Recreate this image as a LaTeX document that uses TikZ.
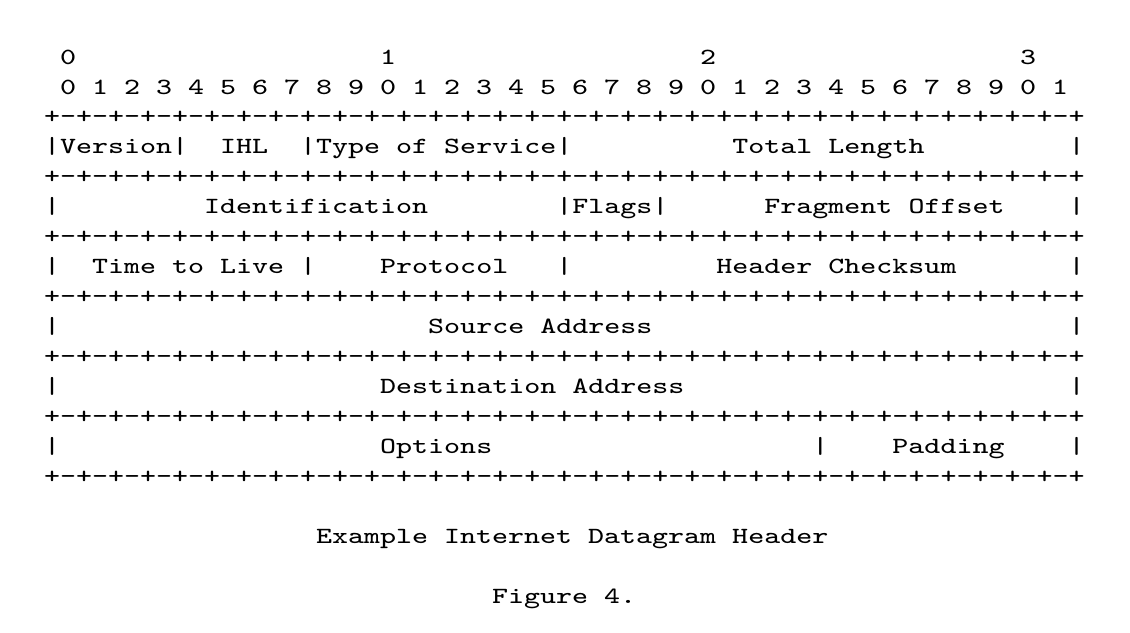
\documentclass[tikz,border=0pt]{standalone}
\usepackage{tikz}
\newcommand{\bitfont}{\fontsize{6.6pt}{8pt}\selectfont\ttfamily}
\newlength{\charw}
\settowidth{\charw}{\bitfont 0}
\pgfmathsetmacro{\stretch}{0.16cm/\charw}
\newcommand{\wide}[1]{\scalebox{\stretch}[1]{#1}}
\newcommand{\sepline}{+-+-+-+-+-+-+-+-+-+-+-+-+-+-+-+-+-+-+-+-+-+-+-+-+-+-+-+-+-+-+-+-+}
\tikzset{
    ascii/.style={anchor=base west, inner sep=0pt, outer sep=0pt, font=\bitfont},
}

\begin{document}
\begin{tikzpicture}[x=0.01cm, y=-0.01cm]
    \useasboundingbox (0,0) rectangle (1130,632);

    % bit numbers
    \foreach \d [count=\i from 0] in {0,1,2,3}
        \node[ascii] (tens\i) at ({44+16*(1+20*\i)},64) {\wide{\d}};
    \foreach \b in {0,...,31} {
        \pgfmathtruncatemacro{\u}{mod(\b,10)}
        \node[ascii] (bit\b) at ({44+16*(1+2*\b)},94) {\wide{\u}};
    }

    % separator lines
    \foreach \k in {0,...,6}
        \node[ascii] (sep\k) at (44,{123+60*\k}) {\wide{\sepline}};

    % header fields
    \node[ascii] (row1) at (44,153) {\wide{|Version|~~IHL~~|Type~of~Service|~~~~~~~~~~Total~Length~~~~~~~~~|}};
    \node[ascii] (row2) at (44,213) {\wide{|~~~~~~~~~Identification~~~~~~~~|Flags|~~~~~~Fragment~Offset~~~~|}};
    \node[ascii] (row3) at (44,273) {\wide{|~~Time~to~Live~|~~~~Protocol~~~|~~~~~~~~~Header~Checksum~~~~~~~|}};
    \node[ascii] (row4) at (44,333) {\wide{|~~~~~~~~~~~~~~~~~~~~~~~Source~Address~~~~~~~~~~~~~~~~~~~~~~~~~~|}};
    \node[ascii] (row5) at (44,393) {\wide{|~~~~~~~~~~~~~~~~~~~~Destination~Address~~~~~~~~~~~~~~~~~~~~~~~~|}};
    \node[ascii] (row6) at (44,453) {\wide{|~~~~~~~~~~~~~~~~~~~~Options~~~~~~~~~~~~~~~~~~~~|~~~~Padding~~~~|}};

    % caption
    \node[ascii] (caption) at ({44+16*17},543) {\wide{Example~Internet~Datagram~Header}};
    \node[ascii] (figno) at ({44+16*28},603) {\wide{Figure~4.}};

\end{tikzpicture}
\end{document}
